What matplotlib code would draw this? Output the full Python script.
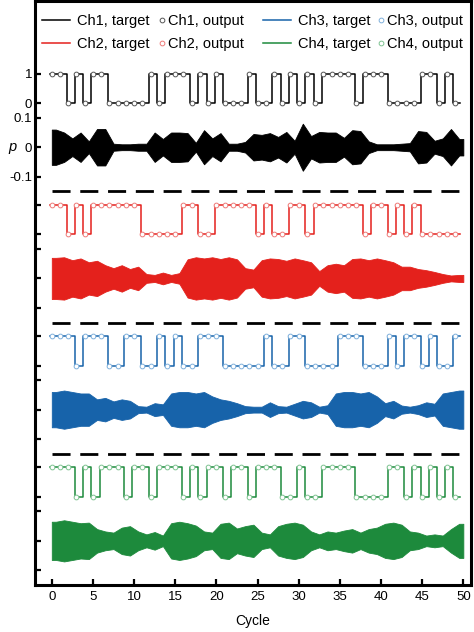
import numpy as np
import matplotlib
matplotlib.use('Agg')
import matplotlib.pyplot as plt
from matplotlib.legend import Legend

plt.rcParams['font.family'] = ['Liberation Sans', 'DejaVu Sans']

# target bits per cycle (output circles sit on the same values)
ch1_bits = [1, 1, 0, 1, 0, 1, 1, 0, 0, 0, 0, 0, 1, 0, 1, 1, 1, 0, 1, 0,
            1, 0, 0, 0, 1, 0, 0, 1, 0, 1, 0, 1, 0, 1, 1, 1, 1, 0, 1, 1,
            1, 0, 0, 0, 0, 1, 1, 0, 1, 0]
ch2_bits = [1, 1, 0, 1, 0, 1, 1, 1, 1, 1, 1, 0, 0, 0, 0, 0, 1, 1, 0, 0,
            1, 1, 1, 1, 1, 0, 1, 0, 0, 1, 1, 0, 1, 1, 1, 1, 1, 1, 0, 1,
            1, 0, 1, 0, 1, 0, 0, 0, 0, 0]
ch3_bits = [1, 1, 1, 0, 1, 1, 1, 0, 0, 1, 1, 0, 0, 1, 0, 1, 0, 0, 1, 1,
            1, 0, 0, 0, 0, 0, 1, 0, 0, 1, 1, 0, 0, 0, 0, 1, 1, 1, 0, 0,
            0, 1, 0, 1, 1, 0, 1, 0, 0, 1]
ch4_bits = [1, 1, 1, 0, 1, 0, 1, 1, 1, 0, 1, 1, 0, 1, 1, 1, 0, 1, 0, 1,
            1, 0, 1, 1, 0, 1, 1, 1, 0, 0, 1, 0, 0, 1, 1, 1, 1, 0, 0, 0,
            0, 1, 1, 0, 1, 0, 1, 0, 1, 0]

# envelope of the oscillating p signal, one value per cycle
ch1_env = [0.060, 0.050, 0.030, 0.050, 0.020, 0.062, 0.062, 0.012, 0.010, 0.010,
           0.012, 0.012, 0.050, 0.028, 0.050, 0.050, 0.048, 0.015, 0.058, 0.030,
           0.048, 0.012, 0.012, 0.018, 0.045, 0.042, 0.048, 0.035, 0.052, 0.022,
           0.080, 0.038, 0.052, 0.050, 0.050, 0.032, 0.058, 0.055, 0.020, 0.010,
           0.010, 0.010, 0.012, 0.014, 0.055, 0.052, 0.022, 0.030, 0.062, 0.028]
ch2_env = [0.070, 0.072, 0.062, 0.068, 0.055, 0.060, 0.045, 0.035, 0.045, 0.032,
           0.040, 0.015, 0.012, 0.020, 0.012, 0.018, 0.065, 0.072, 0.068, 0.072,
           0.066, 0.072, 0.065, 0.035, 0.030, 0.062, 0.068, 0.066, 0.060, 0.068,
           0.062, 0.055, 0.025, 0.045, 0.050, 0.045, 0.066, 0.068, 0.062, 0.068,
           0.062, 0.055, 0.040, 0.040, 0.032, 0.028, 0.022, 0.015, 0.010, 0.012]
ch3_env = [0.060, 0.065, 0.060, 0.055, 0.055, 0.035, 0.040, 0.028, 0.035, 0.030,
           0.012, 0.010, 0.022, 0.018, 0.055, 0.060, 0.060, 0.055, 0.060, 0.045,
           0.035, 0.030, 0.022, 0.012, 0.010, 0.010, 0.025, 0.012, 0.010, 0.020,
           0.030, 0.025, 0.010, 0.015, 0.055, 0.060, 0.060, 0.055, 0.060, 0.045,
           0.022, 0.030, 0.014, 0.010, 0.015, 0.025, 0.020, 0.055, 0.060, 0.065]
ch4_env = [0.065, 0.070, 0.065, 0.060, 0.062, 0.040, 0.032, 0.028, 0.045, 0.050,
           0.032, 0.022, 0.030, 0.018, 0.060, 0.065, 0.060, 0.052, 0.032, 0.028,
           0.058, 0.062, 0.042, 0.050, 0.055, 0.028, 0.022, 0.050, 0.058, 0.062,
           0.055, 0.032, 0.022, 0.032, 0.028, 0.035, 0.040, 0.028, 0.040, 0.045,
           0.058, 0.062, 0.055, 0.032, 0.028, 0.018, 0.022, 0.018, 0.040, 0.058]

channels = ['Ch1', 'Ch2', 'Ch3', 'Ch4']
bits_all = [ch1_bits, ch2_bits, ch3_bits, ch4_bits]
env_all = [ch1_env, ch2_env, ch3_env, ch4_env]
line_colors = ['#000000', '#e4211c', '#1763aa', '#1d8a3c']
circ_colors = ['#555555', '#ee7a78', '#7fb0dc', '#7fc392']
x_ticks = [0, 5, 10, 15, 20, 25, 30, 35, 40, 45, 50]

spacing = 4.46    # vertical distance between channel blocks
p_scale = 10.0    # 0.1 in p == 1 digital unit

fig = plt.figure(figsize=(4.74, 6.32), dpi=100)
ax = fig.add_axes([0.074, 0.0744, 0.92, 0.924])

cycles = np.arange(50)
target_handles = []
output_handles = []
yticks = []
yticklabels = []

for i in range(4):
    base = -spacing * i
    bits = np.array(bits_all[i])
    env = np.array(env_all[i])

    # target as step line, output as open circles
    xs = np.append(cycles - 0.2, 49.6)
    ys = np.append(bits, bits[-1]) + base
    h_t, = ax.step(xs, ys, where='post', color=line_colors[i], lw=1.1,
                   label=f'{channels[i]}, target', zorder=2)
    h_o, = ax.plot(cycles, bits + base, ls='none', marker='o', ms=3.4,
                   mfc='white', mec=circ_colors[i], mew=0.7,
                   label=f'{channels[i]}, output', zorder=3)
    target_handles.append(h_t)
    output_handles.append(h_o)

    # oscillating p trace
    pc = base - 1.5
    xe = np.concatenate([[0], cycles + 0.5, [50]])
    ee = np.concatenate([[env[0]], env, [env[-1]]]) * p_scale
    ax.fill_between(xe, pc - ee, pc + ee, color=line_colors[i], lw=0.6,
                    edgecolor=line_colors[i], zorder=2)

    if i < 3:
        ax.plot([0, 50], [base - 3.0, base - 3.0], color='black', lw=2.0,
                ls=(0, (6.5, 3.5)), zorder=2)

    yticks += [base + 1, base, base - 0.5, base - 1.5, base - 2.5]
    if i == 0:
        yticklabels += ['1', '0', '0.1', '0', '-0.1']
    else:
        yticklabels += [''] * 5

ax.set_xlim(-2.03, 50.95)
ax.set_ylim(-spacing * 3 - 3.0, 3.47)
ax.set_xticks(x_ticks)
ax.set_yticks(yticks)
ax.set_yticklabels(yticklabels)
ax.tick_params(direction='in', length=4.5, width=1.6, labelsize=9.5, pad=2)
ax.tick_params(axis='x', pad=4)
for sp in ax.spines.values():
    sp.set_linewidth(2.2)
ax.set_xlabel('Cycle', fontsize=10, labelpad=8)
fig.text(8 / 474, 1 - 147 / 632, 'p', style='italic', fontsize=10.5, va='center')

# legend in four separate columns
legend_cols = [
    ([target_handles[0], target_handles[1]], 0.016, 1.9, 0.5),
    ([output_handles[0], output_handles[1]], 0.283, 0.5, 0.15),
    ([target_handles[2], target_handles[3]], 0.523, 1.9, 0.5),
    ([output_handles[2], output_handles[3]], 0.785, 0.5, 0.15),
]
for handles, xpos, hl, tp in legend_cols:
    leg = Legend(ax, handles, [h.get_label() for h in handles], loc='upper left',
                 bbox_to_anchor=(xpos, 0.978), frameon=False, fontsize=10.5,
                 handlelength=hl, handletextpad=tp, labelspacing=0.6,
                 borderpad=0, borderaxespad=0)
    ax.add_artist(leg)

fig.savefig('out.png', dpi=100)
